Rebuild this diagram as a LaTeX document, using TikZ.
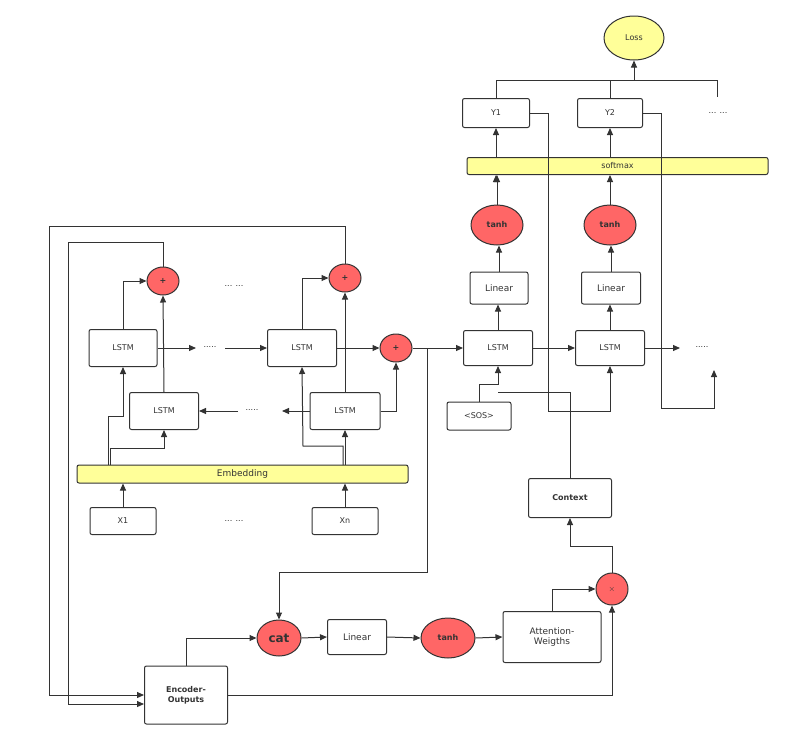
\documentclass[tikz,border=0pt]{standalone}
\usepackage{fontspec}
\setmainfont{DejaVu Sans}
\usetikzlibrary{arrows.meta,shapes.geometric}
\definecolor{ln}{HTML}{333333}
\definecolor{rd}{HTML}{FF6666}
\definecolor{yl}{HTML}{FFFF99}
\begin{document}
\begin{tikzpicture}[x=1pt,y=-1pt,
 every node/.style={font=\fontsize{8}{10}\selectfont,text=ln},
 box/.style={draw=ln,line width=1pt,fill=white,rounded corners=2pt,inner sep=0pt,align=center},
 bar/.style={draw=ln,line width=1pt,fill=yl,rounded corners=2pt,inner sep=0pt},
 op/.style={draw=ln,line width=1pt,fill=rd,ellipse,inner sep=0pt},
 ar/.style={draw=ln,line width=1pt,-{Triangle[length=7pt,width=6pt]}},
 li/.style={draw=ln,line width=1pt}]
\useasboundingbox (0,0) rectangle (789,731);
% decoder top
\node[op,fill=yl,minimum width=60,minimum height=44] (loss) at (634,38) {Loss};
\node[box,minimum width=67,minimum height=29] (y1) at (496,113) {Y1};
\node[box,minimum width=65,minimum height=29] (y2) at (610,113) {Y2};
\node (ydots) at (718,113) {... ...};
\node[bar,minimum width=301,minimum height=17] (soft) at (617.5,166) {softmax};
\node[op,minimum width=52,minimum height=40] (t1) at (497,225) {\bfseries tanh};
\node[op,minimum width=52,minimum height=40] (t2) at (610,225) {\bfseries tanh};
\node[box,minimum width=58,minimum height=32] (l1) at (499,288) {\fontsize{9}{11}\selectfont Linear};
\node[box,minimum width=59,minimum height=32] (l2) at (611,288) {\fontsize{9}{11}\selectfont Linear};
\node[box,minimum width=69,minimum height=35] (d1) at (498,348) {LSTM};
\node[box,minimum width=69,minimum height=35] (d2) at (610,348) {LSTM};
\node (ddots) at (702,347) {.....};
\coordinate (ddarr) at (680,348);
\coordinate (dup) at (714,370);
\node[box,minimum width=64,minimum height=28] (sos) at (479,416) {<SOS>};
\node[box,minimum width=83,minimum height=39] (ctx) at (570,498) {\bfseries Context};
% loss wiring
\draw[li] (y1.north) -- (496,80) -- (717,80) -- (717,97);
\draw[li] (y2.north) -- (610,80);
\draw[ar] (634,80) -- (loss.south);
\draw[ar] (497,157) ++(0,0) (soft.south -| y1) ; 
\draw[ar] (soft.north -| y1) -- (y1.south);
\draw[ar] (soft.north -| y2) -- (y2.south);
\draw[ar] (t1.north) -- (soft.south -| t1);
\draw[ar] (t2.north) -- (soft.south -| t2);
\draw[ar] (l1.north) -- (t1.south -| l1);
\draw[ar] (l2.north) -- (t2.south -| l2);
\draw[ar] (d1.north) -- (l1.south -| d1);
\draw[ar] (d2.north) -- (l2.south -| d2);
\draw[ar] (d1.east) -- (d2.west);
\draw[ar] (d2.east) -- (ddarr);
\draw[ar] (y2.east) -- (661,113) -- (661,408) -- (714,408) -- (dup);
\draw[ar] (y1.east) -- (548,113) -- (548,411) -- (610,411) -- (d2.south);
\draw[ar] (sos.north) -- (479,384) -- (498,384) -- (d1.south);
\draw[li] (ctx.north) -- (570,392) -- (498,392);
% encoder
\node[box,minimum width=68,minimum height=37] (a1) at (123,348) {LSTM};
\node[box,minimum width=69,minimum height=37] (b1) at (164,411) {LSTM};
\node[box,minimum width=69,minimum height=37] (a2) at (302,348) {LSTM};
\node[box,minimum width=70,minimum height=37] (b2) at (345,411) {LSTM};
\node[op,minimum width=32,minimum height=28] (p1) at (163,281) {\bfseries +};
\node[op,minimum width=32,minimum height=28] (p2) at (345,278) {\bfseries +};
\node[op,minimum width=32,minimum height=28] (p3) at (396,348) {\bfseries +};
\node (pd) at (234,286) {... ...};
\node[bar,minimum width=331,minimum height=18] (emb) at (242.5,474) {\fontsize{9}{11}\selectfont Embedding};
\node[box,minimum width=66,minimum height=27] (x1) at (123,521) {X1};
\node[box,minimum width=66,minimum height=27] (xn) at (345,521) {Xn};
\node (xd) at (234,521) {... ...};
\node (ad) at (210,347) {.....};
\node (bd) at (252,410) {.....};
\coordinate (ad1) at (196,348);
\coordinate (ad2) at (225,348);
\coordinate (bd1) at (282,411);
\coordinate (bd2) at (238,411);
\draw[ar] (x1.north) -- (emb.south -| x1);
\draw[ar] (xn.north) -- (emb.south -| xn);
\draw[ar] (108,465) -- (108,416) -- (123,416) -- (a1.south);
\draw[ar] (110,465) -- (110,448) -- (164,448) -- (b1.south);
\draw[ar] (343,465) -- (343,446) -- (303,446) -- (a2.south);
\draw[ar] (345,465) -- (b2.south);
\draw[ar] (a1.east) -- (ad1);
\draw[ar] (ad2) -- (a2.west);
\draw[ar] (b2.west) -- (bd1);
\draw[ar] (bd2) -- (b1.east);
\draw[ar] (a1.north) -- (123,281) -- (p1.west);
\draw[ar] (b1.north) -- (p1.south);
\draw[ar] (a2.north) -- (302,278) -- (p2.west);
\draw[ar] (b2.north) -- (p2.south);
\draw[ar] (a2.east) -- (p3.west);
\draw[ar] (b2.east) -- (396,411) -- (p3.south);
\draw[ar] (p3.east) -- (d1.west);
% attention
\node[box,minimum width=83,minimum height=58] (enc) at (186,695) {\bfseries Encoder-\\\bfseries Outputs};
\node[op,minimum width=44,minimum height=36] (cat) at (279,638) {\fontsize{12}{14}\selectfont\bfseries cat};
\node[box,minimum width=59,minimum height=35] (lin) at (357,637) {\fontsize{9}{11}\selectfont Linear};
\node[op,minimum width=54,minimum height=40] (t3) at (448,638) {\bfseries tanh};
\node[box,minimum width=98,minimum height=51] (att) at (552,637) {\fontsize{9}{12}\selectfont Attention-\\\fontsize{9}{12}\selectfont Weigths};
\node[op,minimum width=32,minimum height=32] (mul) at (612,589) {$\times$};
\draw[ar] (p1.north) -- (163,242) -- (68,242) -- (68,704) -- (enc.west |- 0,704);
\draw[ar] (p2.north) -- (345,226) -- (49,226) -- (49,695) -- (enc.west);
\draw[ar] (427,348) -- (427,572) -- (279,572) -- (cat.north);
\draw[ar] (enc.north) -- (186,638) -- (cat.west);
\draw[ar] (cat.east) -- (lin.west);
\draw[ar] (lin.east) -- (t3.west);
\draw[ar] (t3.east) -- (att.west);
\draw[ar] (att.north) -- (552,589) -- (mul.west);
\draw[ar] (enc.east) -- (612,695) -- (mul.south);
\draw[ar] (mul.north) -- (612,546) -- (570,546) -- (ctx.south);
\end{tikzpicture}
\end{document}
